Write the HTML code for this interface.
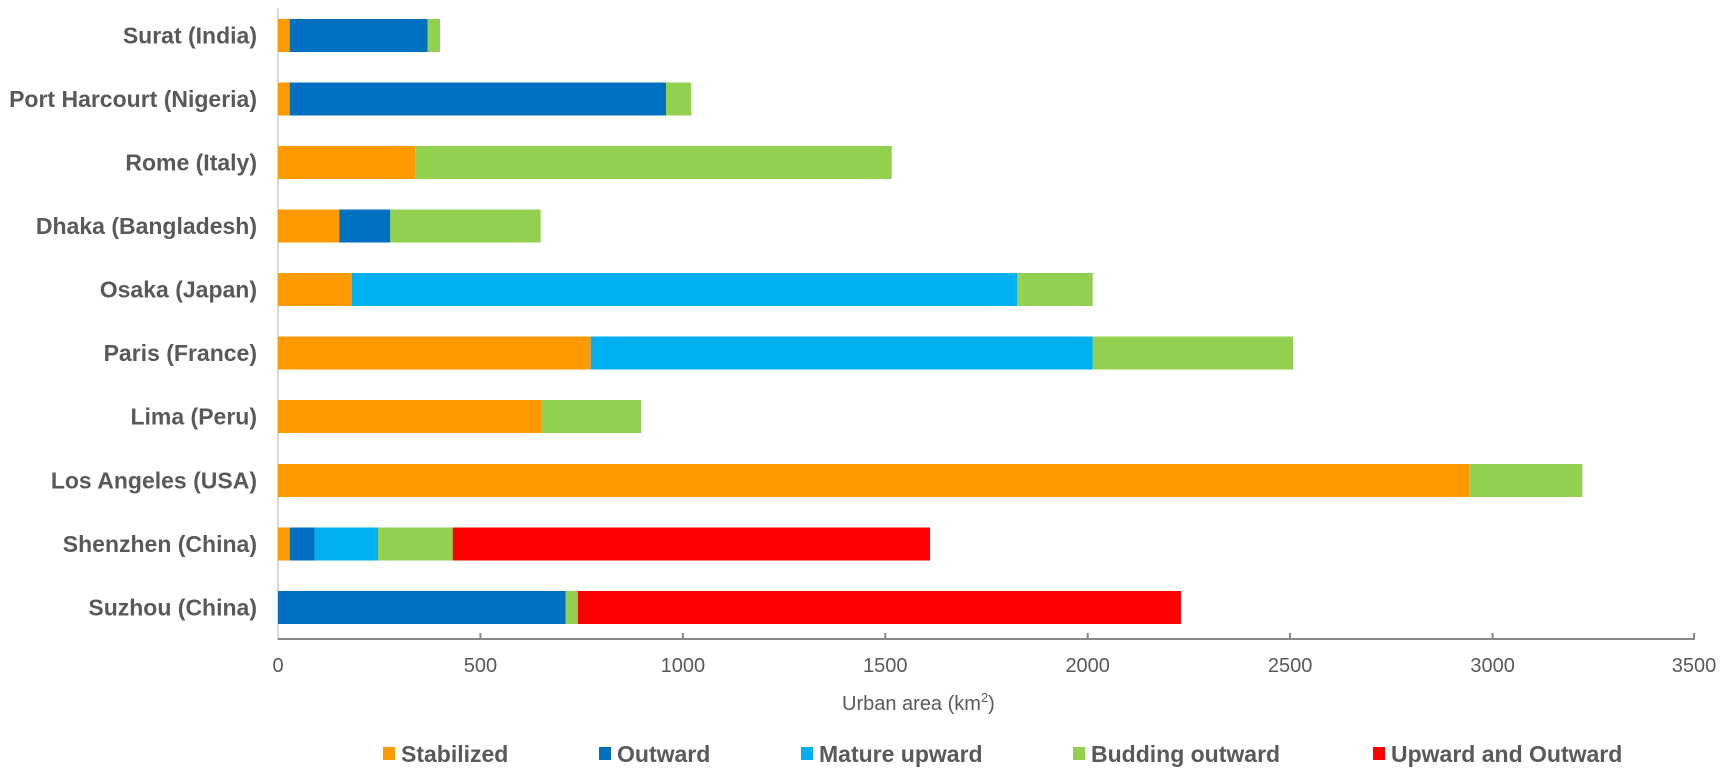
<!DOCTYPE html>
<html><head><meta charset="utf-8"><style>
html,body{margin:0;padding:0;background:#fff;}
svg{display:block;}
.cat{font-family:"Liberation Sans",Arial,sans-serif;font-weight:bold;font-size:23px;fill:#595959;}
.tick{font-family:"Liberation Sans",Arial,sans-serif;font-size:20px;fill:#595959;}
.leg{font-family:"Liberation Sans",Arial,sans-serif;font-weight:bold;font-size:23px;fill:#595959;}
</style></head><body>
<svg width="1720" height="770" viewBox="0 0 1720 770" xmlns="http://www.w3.org/2000/svg">
<line x1="278" y1="8" x2="278" y2="640" stroke="#d9d9d9" stroke-width="2"/>
<!-- bars -->
<g>
<!-- Surat -->
<rect x="278" y="19" width="11.7" height="33" fill="#FF9900"/>
<rect x="289.7" y="19" width="138" height="33" fill="#0070C0"/>
<rect x="427.7" y="19" width="12.3" height="33" fill="#92D050"/>
<!-- Port Harcourt -->
<rect x="278" y="82.5" width="11.7" height="33" fill="#FF9900"/>
<rect x="289.7" y="82.5" width="376.3" height="33" fill="#0070C0"/>
<rect x="666" y="82.5" width="25.3" height="33" fill="#92D050"/>
<!-- Rome -->
<rect x="278" y="146" width="137.3" height="33" fill="#FF9900"/>
<rect x="415.3" y="146" width="476.4" height="33" fill="#92D050"/>
<!-- Dhaka -->
<rect x="278" y="209.5" width="61.3" height="33" fill="#FF9900"/>
<rect x="339.3" y="209.5" width="51" height="33" fill="#0070C0"/>
<rect x="390.3" y="209.5" width="150.4" height="33" fill="#92D050"/>
<!-- Osaka -->
<rect x="278" y="273" width="74" height="33" fill="#FF9900"/>
<rect x="352" y="273" width="665" height="33" fill="#00B0F0"/>
<rect x="1017" y="273" width="75.7" height="33" fill="#92D050"/>
<!-- Paris -->
<rect x="278" y="336.5" width="312.7" height="33" fill="#FF9900"/>
<rect x="590.7" y="336.5" width="502" height="33" fill="#00B0F0"/>
<rect x="1092.7" y="336.5" width="200.3" height="33" fill="#92D050"/>
<!-- Lima -->
<rect x="278" y="400" width="263" height="33" fill="#FF9900"/>
<rect x="541" y="400" width="100" height="33" fill="#92D050"/>
<!-- LA -->
<rect x="278" y="464" width="1191.7" height="33" fill="#FF9900"/>
<rect x="1469.7" y="464" width="112.6" height="33" fill="#92D050"/>
<!-- Shenzhen -->
<rect x="278" y="527.5" width="11.7" height="33" fill="#FF9900"/>
<rect x="289.7" y="527.5" width="25" height="33" fill="#0070C0"/>
<rect x="314.7" y="527.5" width="63.3" height="33" fill="#00B0F0"/>
<rect x="378" y="527.5" width="74.7" height="33" fill="#92D050"/>
<rect x="452.7" y="527.5" width="477.3" height="33" fill="#FF0000"/>
<!-- Suzhou -->
<rect x="278" y="591" width="287.7" height="33" fill="#0070C0"/>
<rect x="565.7" y="591" width="12.3" height="33" fill="#92D050"/>
<rect x="578" y="591" width="603" height="33" fill="#FF0000"/>
</g>
<!-- x axis -->
<line x1="278" y1="639" x2="1695" y2="639" stroke="#898989" stroke-width="2"/>
<g stroke="#898989" stroke-width="2">
<line x1="480.4" y1="633" x2="480.4" y2="639"/>
<line x1="682.9" y1="633" x2="682.9" y2="639"/>
<line x1="885.3" y1="633" x2="885.3" y2="639"/>
<line x1="1087.7" y1="633" x2="1087.7" y2="639"/>
<line x1="1290.1" y1="633" x2="1290.1" y2="639"/>
<line x1="1492.6" y1="633" x2="1492.6" y2="639"/>
<line x1="1694" y1="633" x2="1694" y2="639"/>
</g>
<g class="tick" text-anchor="middle">
<text x="278" y="672">0</text>
<text x="480.4" y="672">500</text>
<text x="682.9" y="672">1000</text>
<text x="885.3" y="672">1500</text>
<text x="1087.7" y="672">2000</text>
<text x="1290.1" y="672">2500</text>
<text x="1492.6" y="672">3000</text>
<text x="1694" y="672">3500</text>
</g>
<text class="tick" x="842" y="710">Urban area (km<tspan font-size="13" dy="-8">2</tspan><tspan dy="8">)</tspan></text>
<!-- categories -->
<g class="cat" text-anchor="end">
<text x="257" y="43.5">Surat (India)</text>
<text x="257" y="107">Port Harcourt (Nigeria)</text>
<text x="257" y="170.5">Rome (Italy)</text>
<text x="257" y="234">Dhaka (Bangladesh)</text>
<text x="257" y="297.5">Osaka (Japan)</text>
<text x="257" y="361">Paris (France)</text>
<text x="257" y="424.5">Lima (Peru)</text>
<text x="257" y="488.5">Los Angeles (USA)</text>
<text x="257" y="552">Shenzhen (China)</text>
<text x="257" y="615.5">Suzhou (China)</text>
</g>
<!-- legend -->
<rect x="383" y="747" width="12" height="13" fill="#FF9900"/>
<text class="leg" x="401" y="762">Stabilized</text>
<rect x="599" y="747" width="12" height="13" fill="#0070C0"/>
<text class="leg" x="617" y="762">Outward</text>
<rect x="801" y="747" width="12" height="13" fill="#00B0F0"/>
<text class="leg" x="819" y="762">Mature upward</text>
<rect x="1073" y="747" width="12" height="13" fill="#92D050"/>
<text class="leg" x="1091" y="762">Budding outward</text>
<rect x="1373" y="747" width="12" height="13" fill="#FF0000"/>
<text class="leg" x="1391" y="762">Upward and Outward</text>
</svg>
</body></html>
